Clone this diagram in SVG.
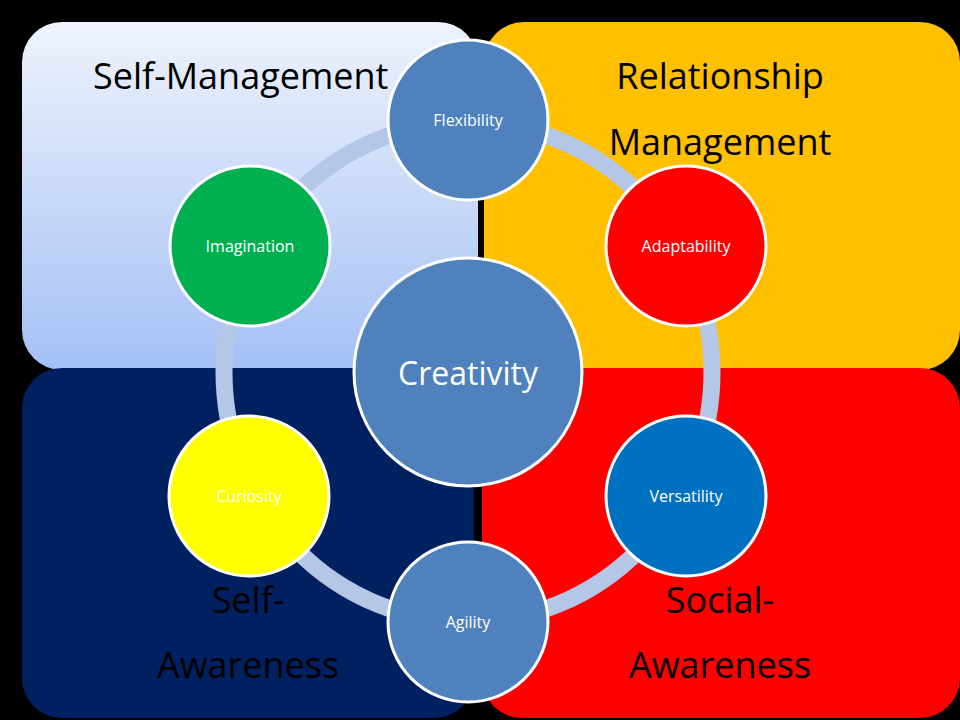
<svg xmlns="http://www.w3.org/2000/svg" width="960" height="720" viewBox="0 0 960 720">
<defs>
<linearGradient id="g1" x1="0" y1="0" x2="0" y2="1"><stop offset="0" stop-color="#eef3fc"/><stop offset="1" stop-color="#a4c0f4"/></linearGradient>
<style>
.q{font-family:"Open Sans","Liberation Sans",sans-serif;font-size:36px;fill:#000}
.n{stroke:#fff;stroke-width:3}
.t{font-family:"Open Sans","Liberation Sans",sans-serif;font-size:16px;fill:#fff;text-anchor:middle;dominant-baseline:central}
</style>
</defs>
<rect width="960" height="720" fill="#000"/>
<g id="quadrants">
<rect x="22" y="22" width="456" height="348" rx="40" fill="url(#g1)"/>
<rect x="484" y="22" width="476" height="348" rx="40" fill="#ffc000"/>
<rect x="22" y="368" width="452" height="350" rx="40" fill="#002060"/>
<rect x="482" y="368" width="478" height="350" rx="40" fill="#ff0000"/>
<text class="q" x="93" y="89">Self-Management</text>
<text class="q" x="720" y="89" text-anchor="middle">Relationship</text>
<text class="q" x="720" y="155" text-anchor="middle">Management</text>
<text class="q" x="248" y="613" text-anchor="middle">Self-</text>
<text class="q" x="248" y="678" text-anchor="middle">Awareness</text>
<text class="q" x="720" y="613" text-anchor="middle">Social-</text>
<text class="q" x="720" y="678" text-anchor="middle">Awareness</text>
</g>
<g id="connectors"><ellipse cx="468" cy="372" rx="244" ry="250" fill="none" stroke="#b4c7e7" stroke-width="17"/></g>
<g id="creativity"><circle class="n" cx="468" cy="372" r="114" fill="#4f81bd"/><text class="t" x="468" y="372" style="font-size:32px">Creativity</text></g>
<g id="flexibility"><circle class="n" cx="468" cy="120" r="80" fill="#4f81bd"/><text class="t" x="468" y="120">Flexibility</text></g>
<g id="adaptability"><circle class="n" cx="686" cy="246" r="80" fill="#ff0000"/><text class="t" x="686" y="246">Adaptability</text></g>
<g id="versatility"><circle class="n" cx="686" cy="496" r="80" fill="#0070c0"/><text class="t" x="686" y="496">Versatility</text></g>
<g id="agility"><circle class="n" cx="468" cy="622" r="80" fill="#4f81bd"/><text class="t" x="468" y="622">Agility</text></g>
<g id="curiosity"><circle class="n" cx="249" cy="496" r="80" fill="#ffff00"/><text class="t" x="249" y="496">Curiosity</text></g>
<g id="imagination"><circle class="n" cx="250" cy="246" r="80" fill="#00b050"/><text class="t" x="250" y="246">Imagination</text></g>
</svg>
